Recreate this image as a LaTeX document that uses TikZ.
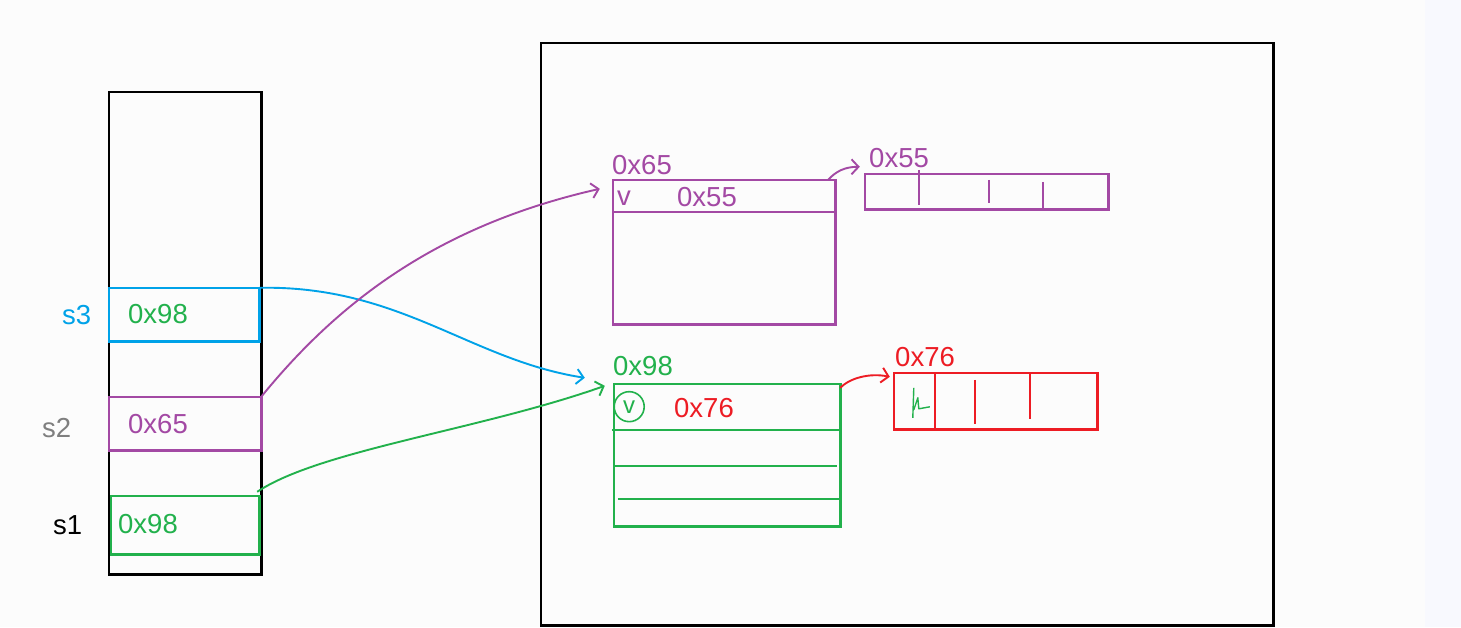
\documentclass[tikz,border=0pt]{standalone}
\usepackage{fontspec}
\setmainfont{Liberation Sans}
\usetikzlibrary{arrows.meta,calc}
\definecolor{pBlue}{HTML}{00A2E8}
\definecolor{pPurple}{HTML}{A349A4}
\definecolor{pGreen}{HTML}{22B14C}
\definecolor{pRed}{HTML}{ED1C24}
\definecolor{pGray}{HTML}{7F7F7F}
\definecolor{pStrip}{HTML}{F8F9FE}

\begin{document}
\begin{tikzpicture}[
    x=1pt, y=-1pt,
    font=\fontsize{27.5}{33}\selectfont,
    cell/.style={rectangle, inner sep=0pt},
    sep/.style={line width=2.6pt},
    txt/.style={anchor=base west, inner sep=0pt},
    ptr/.style={-{Straight Barb[length=7pt,width=15pt]}, line width=1.9pt}
]
    \useasboundingbox (0,0) rectangle (1461,627);
    \fill[white!99!black] (0,0) rectangle (1425,627);
    \fill[pStrip] (1425,0) rectangle (1461,627);

    % stack
    \node[cell, minimum width=152pt, minimum height=482pt] (stack) at (185,333) {};
    \node[cell, minimum width=150pt, minimum height=53pt] (s3cell) at (184,314.5) {};
    \node[cell, minimum width=152pt, minimum height=53pt] (s2cell) at (185,423.5) {};
    \node[cell, minimum width=148pt, minimum height=58pt] (s1cell) at (185,525) {};
    \node[txt, text=pGreen] (s3val) at (128,323) {0x98};
    \node[txt, text=pPurple] (s2val) at (128,433) {0x65};
    \node[txt, text=pGreen] (s1val) at (118,533) {0x98};
    \node[txt, text=pBlue] (s3lbl) at (62,324) {s3};
    \node[txt, text=pGray] (s2lbl) at (42,437) {s2};
    \node[txt, text=black] (s1lbl) at (53,534) {s1};

    % heap
    \node[cell, minimum width=732pt, minimum height=582pt] (heap) at (907,334) {};

    % object at 0x65
    \node[cell, minimum width=222pt, minimum height=144pt] (objA) at (724,252) {};
    \draw[pPurple, sep] ($(objA.north west)+(0,32)$) -- ($(objA.north east)+(0,32)$);
    \node[txt, text=pPurple] (objAlbl) at (612,174) {0x65};
    \node[txt, text=pPurple] (objAv) at (617,205) {v};
    \node[txt, text=pPurple] (objAval) at (677,206) {0x55};

    % array at 0x55
    \node[cell, minimum width=243pt, minimum height=35pt] (arrA) at (986.5,191.5) {};
    \draw[pPurple, sep] ($(arrA.north west)+(54,-4)$) -- ($(arrA.south west)+(54,-4)$);
    \draw[pPurple, sep] ($(arrA.north west)+(124,6)$) -- ($(arrA.south west)+(124,-6)$);
    \draw[pPurple, sep] ($(arrA.north west)+(178,8)$) -- ($(arrA.south west)+(178,0)$);
    \node[txt, text=pPurple] (arrAlbl) at (869,167) {0x55};

    % object at 0x98
    \node[cell, minimum width=226pt, minimum height=142pt] (objB) at (727,455) {};
    \draw[pGreen, sep] ($(objB.north west)+(-2,46)$) -- ($(objB.north east)+(0,46)$);
    \draw[pGreen, sep] ($(objB.north west)+(1,82)$) -- ($(objB.north east)+(-3,82)$);
    \draw[pGreen, sep] ($(objB.north west)+(4,115)$) -- ($(objB.north east)+(0,115)$);
    \node[txt, text=pGreen] (objBlbl) at (613,375) {0x98};
    \node[txt, text=pGreen, font=\fontsize{24}{28}\selectfont] (objBv) at (623,413) {v};
    \draw[pGreen, line width=1.6pt] (objBv.center) ellipse (15pt and 15pt);
    \node[txt, text=pRed] (objBval) at (674,417) {0x76};

    % array at 0x76
    \node[cell, minimum width=203pt, minimum height=56pt] (arrB) at (995.5,401) {};
    \draw[pRed, sep] ($(arrB.north west)+(41,0)$) -- ($(arrB.south west)+(41,2)$);
    \draw[pRed, sep] ($(arrB.north west)+(81,7)$) -- ($(arrB.south west)+(81,-5)$);
    \draw[pRed, sep] ($(arrB.north west)+(136,1)$) -- ($(arrB.south west)+(136,-10)$);
    \draw[pGreen, line width=1.4pt, line join=round] ($(arrB.north west)+(20,15)$) -- ($(arrB.north west)+(19,45)$)
        ($(arrB.north west)+(20,37)$) -- ($(arrB.north west)+(24,25)$) -- ($(arrB.north west)+(25,36)$)
        -- ($(arrB.north west)+(36,34)$);
    \node[txt, text=pRed] (arrBlbl) at (895,366) {0x76};

    % borders
    \foreach \n/\c in {stack/black, heap/black, s3cell/pBlue, s2cell/pPurple, s1cell/pGreen,
                       objA/pPurple, arrA/pPurple, objB/pGreen, arrB/pRed}
        \draw[\c, sep] (\n.north west) rectangle (\n.south east);

    % references
    \draw[ptr, pBlue] (s3cell.north east) .. controls (400,285) and (470,360) .. ($(objB.north west)+(-29,-6)$);
    \draw[ptr, pPurple] (s2cell.north east) .. controls (340,300) and (440,225) .. ($(objA.north west)+(-13,9)$);
    \draw[ptr, pGreen] ($(s1cell.north east)+(-2,-4)$) .. controls (320,450) and (480,430) .. ($(objB.north west)+(-9,2)$);
    \draw[ptr, pPurple] ($(objA.north east)+(-7,0)$) .. controls +(8,-9) and +(-14,0) .. ($(arrA.north west)+(-5,-7)$);
    \draw[ptr, pRed] ($(objB.north east)+(0,4)$) .. controls +(10,-10) and +(-20,-4) .. ($(arrB.north west)+(-4,4)$);
\end{tikzpicture}
\end{document}
